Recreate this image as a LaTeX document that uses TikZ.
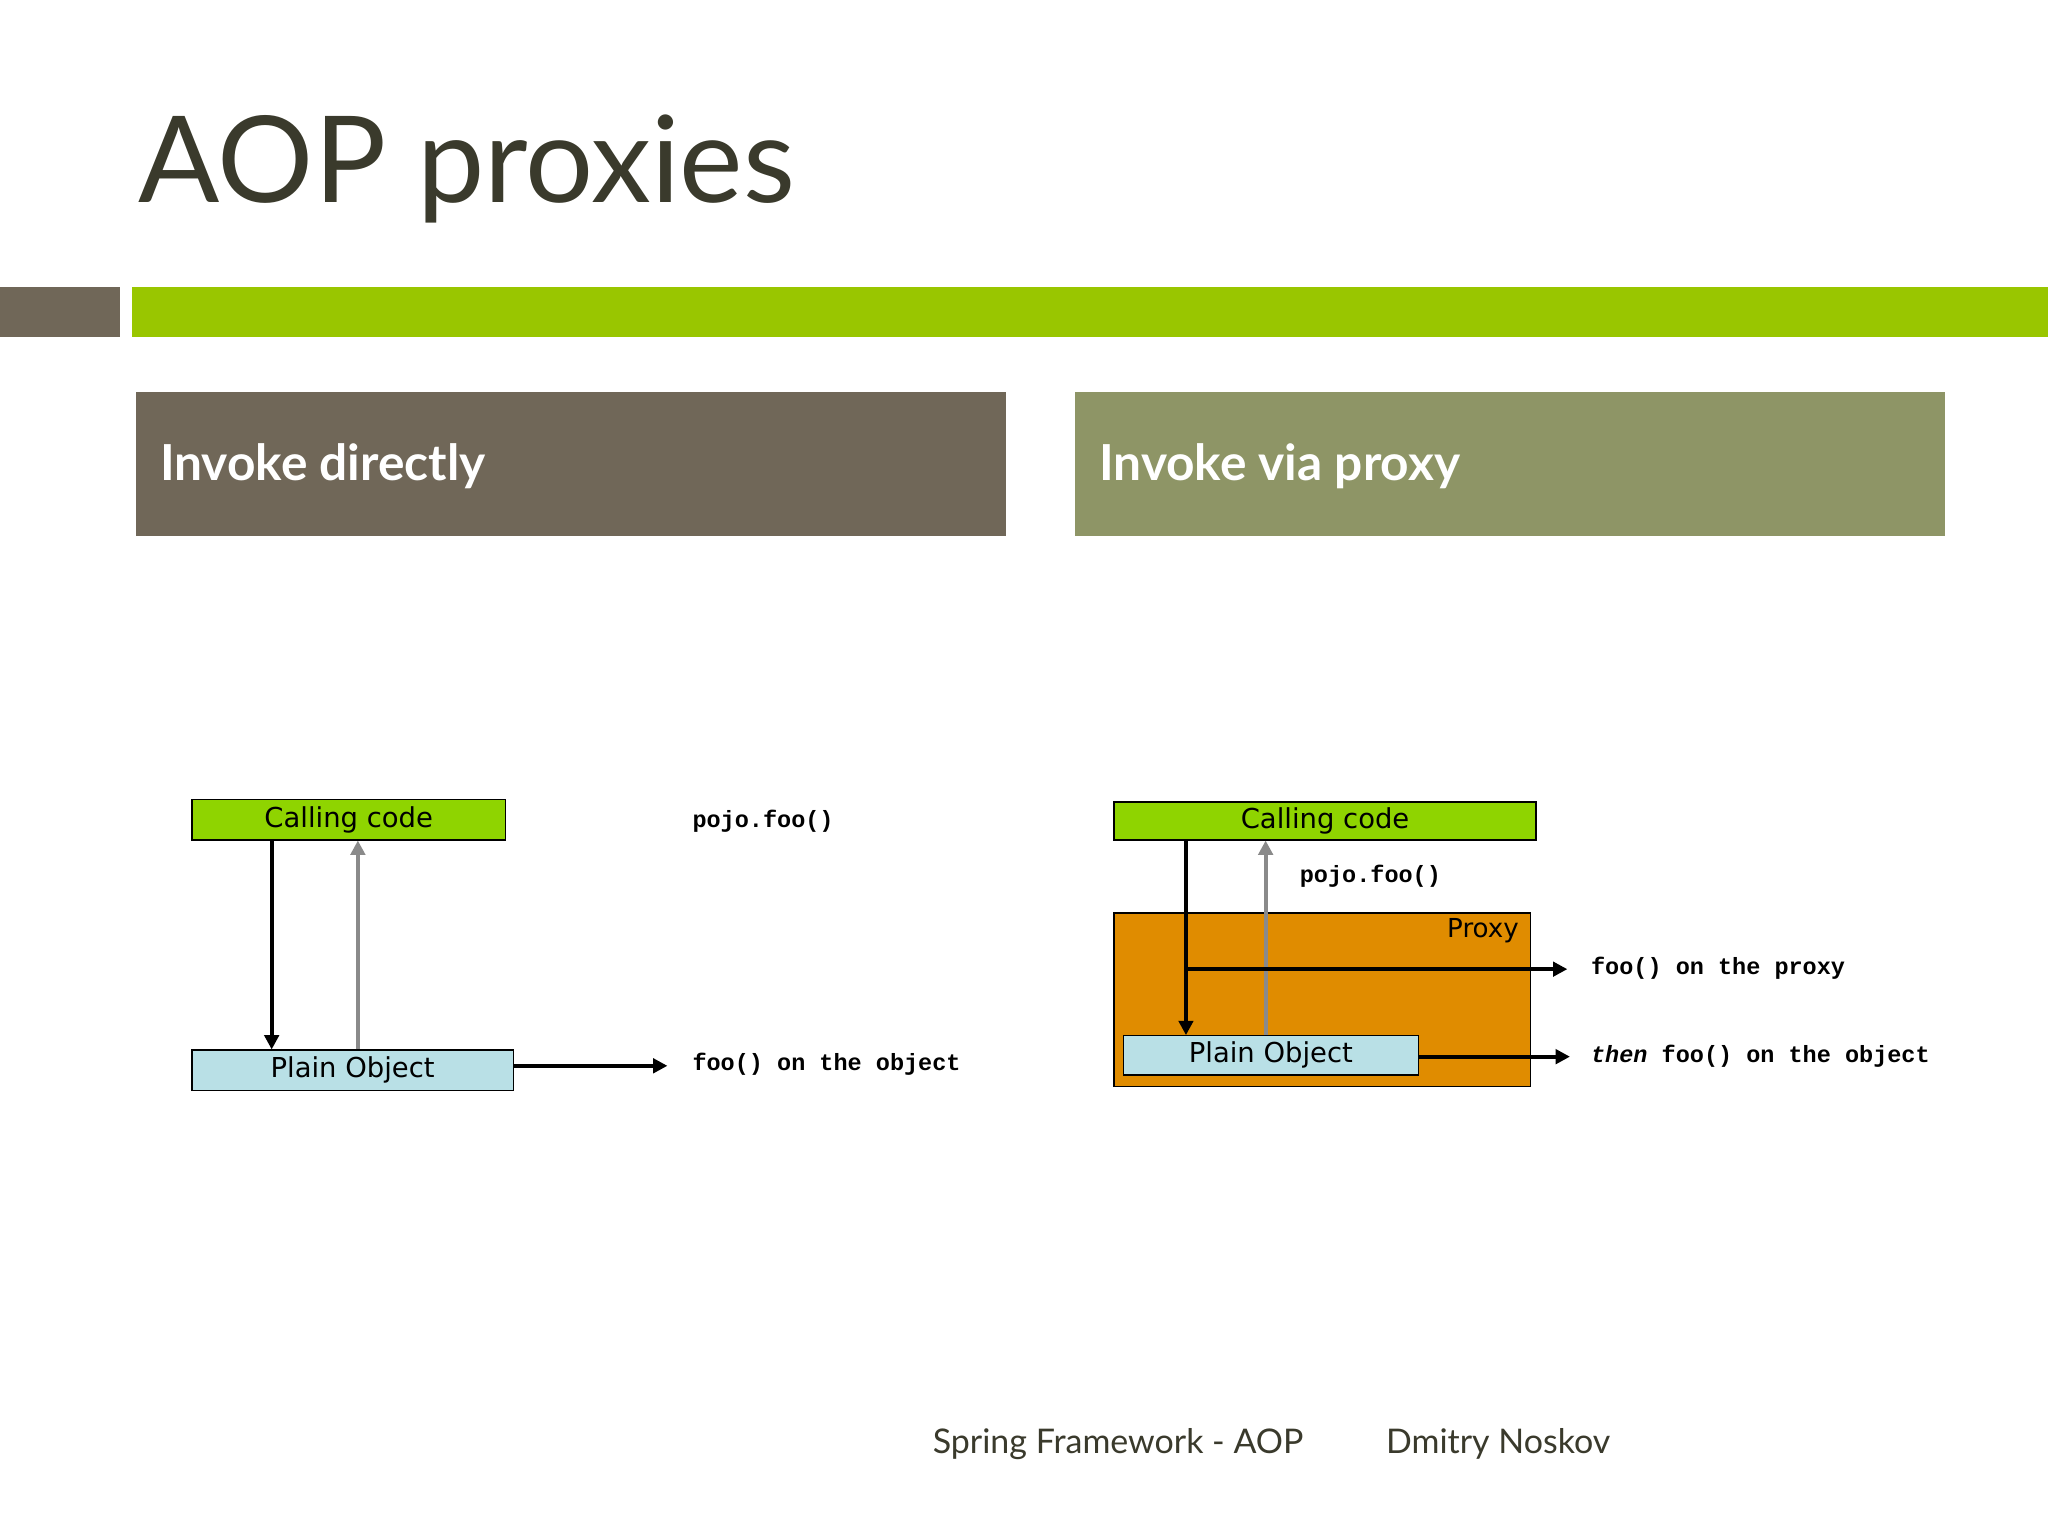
\documentclass[tikz,border=0pt]{standalone}
\usepackage{fontspec}
\setmainfont{Lato}
\newfontfamily\boxfont{DejaVu Sans}
\newfontfamily\codefont{Liberation Mono}
\usetikzlibrary{arrows.meta}
\definecolor{titlec}{HTML}{3A3A2C}
\definecolor{taupe}{HTML}{706758}
\definecolor{lime}{HTML}{99C600}
\definecolor{olive}{HTML}{8E9566}
\definecolor{ccgreen}{HTML}{8FD400}
\definecolor{pblue}{HTML}{B9E0E6}
\definecolor{porange}{HTML}{E08C00}
\definecolor{arrgray}{HTML}{8A8A8A}
\tikzset{
  x=1pt,y=-1pt,
  diagbox/.style={draw=black,line width=1pt,inner sep=0pt,font=\boxfont\fontsize{21}{24}\selectfont},
  codetxt/.style={anchor=west,inner sep=0pt,font=\codefont\bfseries\fontsize{18}{20}\selectfont},
  blk/.style={line width=3pt,-{Triangle[length=11pt,width=11pt]}},
  gry/.style={line width=3pt,draw=arrgray,-{Triangle[length=11pt,width=11pt]},arrgray},
  hdr/.style={anchor=west,text=white,font=\bfseries\fontsize{38}{42}\selectfont}
}
\begin{document}
\begin{tikzpicture}
\useasboundingbox[fill=white] (0,0) rectangle (1568,1176);
\node[anchor=base west,inner sep=0pt,text=titlec,font=\fontsize{92}{100}\selectfont] (title) at (106,155) {AOP proxies};
\fill[taupe] (0,220) rectangle (92,258);
\fill[lime] (101,220) rectangle (1568,258);
\fill[taupe] (104,300) rectangle (770,410);
\fill[olive] (823,300) rectangle (1489,410);
\node[hdr] (h1) at (119,357) {Invoke directly};
\node[hdr] (h2) at (838,357) {Invoke via proxy};
% left diagram
\node[diagbox,fill=ccgreen,minimum width=240pt,minimum height=31pt] (cc1) at (267,627.5) {Calling code};
\node[diagbox,fill=pblue,minimum width=246pt,minimum height=31pt] (po1) at (270,819.5) {Plain Object};
\draw[blk] (cc1.south -| 208,0) -- (po1.north -| 208,0);
\draw[gry] (po1.north -| 274,0) -- (cc1.south -| 274,0);
\coordinate (e1) at (511,816);
\draw[blk] (po1.east |- e1) -- (e1);
\node[codetxt] (t1) at (530,629) {pojo.foo()};
\node[codetxt] (t2) at (530,815) {foo() on the object};
% right diagram
\node[diagbox,fill=ccgreen,minimum width=323pt,minimum height=29pt] (cc2) at (1014.5,628.5) {Calling code};
\node[draw=black,line width=1pt,fill=porange,minimum width=319pt,minimum height=133pt,inner sep=0pt] (px) at (1012.5,765.5) {};
\node[anchor=north east,inner sep=0pt,font=\boxfont\fontsize{20}{22}\selectfont] (pxl) at (1163,703) {Proxy};
\node[diagbox,fill=pblue,minimum width=226pt,minimum height=30pt] (po2) at (973,808) {Plain Object};
\draw[blk] (cc2.south -| 908,0) -- (po2.north -| 908,0);
\draw[gry] (po2.north -| 969,0) -- (cc2.south -| 969,0);
\coordinate (s3) at (908,742);
\coordinate (e3) at (1200,742);
\draw[blk] (s3) -- (e3);
\coordinate (e4) at (1202,809);
\draw[blk] (po2.east |- e4) -- (e4);
\node[codetxt] (t3) at (995,671) {pojo.foo()};
\node[codetxt] (t4) at (1218,741) {foo() on the proxy};
\node[codetxt] (t5) at (1218,809) {\itshape then\upshape{} foo() on the object};
% footer
\node[anchor=base west,inner sep=0pt,text=titlec,font=\fontsize{26}{30}\selectfont] (f1) at (714,1113) {Spring Framework - AOP};
\node[anchor=base west,inner sep=0pt,text=titlec,font=\fontsize{26}{30}\selectfont] (f2) at (1061,1113) {Dmitry Noskov};
\end{tikzpicture}
\end{document}
